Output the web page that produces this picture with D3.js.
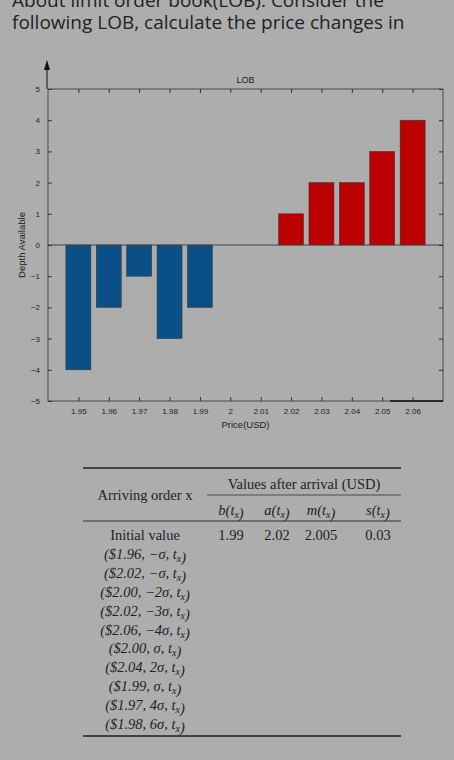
<!DOCTYPE html><html><head><meta charset="utf-8"><script src="https://cdn.jsdelivr.net/npm/d3@7"></script>
<style>body{margin:0;background:#adadad}svg{display:block}</style></head><body><svg width="454" height="760"></svg><script>
const prices=[1.95,1.96,1.97,1.98,1.99,2.00,2.01,2.02,2.03,2.04,2.05,2.06];
const depth=[-4,-2,-1,-3,-2,0,0,1,2,2,3,4];
const xTickLabels=["1.95","1.96","1.97","1.98","1.99","2","2.01","2.02","2.03","2.04","2.05","2.06"];
const yTicks=[-5,-4,-3,-2,-1,0,1,2,3,4,5];
const orders=["Initial value","($1.96, −σ, t_x)","($2.02, −σ, t_x)","($2.00, −2σ, t_x)","($2.02, −3σ, t_x)","($2.06, −4σ, t_x)","($2.00, σ, t_x)","($2.04, 2σ, t_x)","($1.99, σ, t_x)","($1.97, 4σ, t_x)","($1.98, 6σ, t_x)"];
const initialVals=["1.99","2.02","2.005","0.03"];
const colHeads=["b(t_x)","a(t_x)","m(t_x)","s(t_x)"];

const svg=d3.select("svg");
svg.append("text").attr("x",12).attr("y",7).attr("font-family","Open Sans").attr("font-size",19).attr("fill","#222").text("About limit order book(LOB): Consider the");
svg.append("text").attr("x",12).attr("y",29).attr("font-family","Open Sans").attr("font-size",19).attr("fill","#222").text("following LOB, calculate the price changes in");

const L=48,R=443,T=89,B=401;
const x=d3.scaleLinear().domain([1.94,2.07]).range([L,R]);
const y=d3.scaleLinear().domain([-5,5]).range([B,T]);
const g=svg.append("g");
const bw=25;
g.selectAll("rect").data(prices.map((p,i)=>({p,v:depth[i]})).filter(d=>d.v!==0)).join("rect")
 .attr("x",d=>x(d.p)-bw/2).attr("width",bw)
 .attr("y",d=>y(Math.max(0,d.v))).attr("height",d=>Math.abs(y(d.v)-y(0)))
 .attr("fill",d=>d.v<0?"#0a4f86":"#bb0000").attr("stroke","#333").attr("stroke-width",0.5);
g.append("line").attr("x1",L).attr("x2",R).attr("y1",y(0)).attr("y2",y(0)).attr("stroke","#444").attr("stroke-width",1);
g.append("rect").attr("x",L).attr("y",T).attr("width",R-L).attr("height",B-T).attr("fill","none").attr("stroke","#333").attr("stroke-width",0.8);
const xa=g.append("g").attr("transform",`translate(0,${B})`).call(d3.axisBottom(x).tickValues(prices).tickFormat((d,i)=>xTickLabels[i]).tickSize(-4).tickPadding(7));
const xt=g.append("g").attr("transform",`translate(0,${T})`).call(d3.axisTop(x).tickValues(prices).tickFormat("").tickSize(-4));
const ya=g.append("g").attr("transform",`translate(${L},0)`).call(d3.axisLeft(y).tickValues(yTicks).tickFormat(d3.format("d")).tickSize(-4).tickPadding(8));
const yr=g.append("g").attr("transform",`translate(${R},0)`).call(d3.axisRight(y).tickValues(yTicks).tickFormat("").tickSize(-4));
[xa,xt,ya,yr].forEach(a=>{a.select(".domain").remove();a.selectAll("line").attr("stroke","#333");a.selectAll("text").attr("font-family","Liberation Sans").attr("font-size",8).attr("fill","#222");});
g.append("line").attr("x1",390).attr("x2",R).attr("y1",B).attr("y2",B).attr("stroke","#111").attr("stroke-width",1.5);
g.append("line").attr("x1",L-1).attr("x2",L-1).attr("y1",T).attr("y2",66).attr("stroke","#111").attr("stroke-width",1);
g.append("path").attr("d",`M${L-1},60 L${L-4},70 L${L+2},70 Z`).attr("fill","#111");
g.append("text").attr("x",(L+R)/2).attr("y",83).attr("text-anchor","middle").attr("font-family","Liberation Sans").attr("font-size",9).attr("fill","#222").text("LOB");
g.append("text").attr("x",(L+R)/2).attr("y",428).attr("text-anchor","middle").attr("font-family","Liberation Sans").attr("font-size",9.5).attr("fill","#222").text("Price(USD)");
g.append("text").attr("transform",`translate(25,${(T+B)/2}) rotate(-90)`).attr("text-anchor","middle").attr("font-family","Liberation Sans").attr("font-size",9.5).attr("fill","#222").text("Depth Available");

// table
const tf="Liberation Serif",tc="#222";
const t=svg.append("g").attr("font-family",tf).attr("font-size",14.5).attr("fill",tc);
const rule=(x1,x2,yy,w)=>t.append("line").attr("x1",x1).attr("x2",x2).attr("y1",yy).attr("y2",yy).attr("stroke","#222").attr("stroke-width",w);
rule(83,401,468,1.3);rule(207,401,495,0.7);rule(83,401,521,0.9);rule(83,401,736,1.3);
function put(sel,s,italic){
  const parts=s.split("_x");
  parts.forEach((p,i)=>{
    sel.append("tspan").attr("font-style",italic?"italic":null).text(p);
    if(i<parts.length-1) sel.append("tspan").attr("font-style","italic").attr("font-size",10).attr("dy",3).text("x")
      .each(function(){}); 
    if(i<parts.length-1) sel.append("tspan").attr("dy",-3).text("");
  });
}
t.append("text").attr("x",304).attr("y",489).attr("text-anchor","middle").text("Values after arrival (USD)");
t.append("text").attr("x",145).attr("y",500).attr("text-anchor","middle").text("Arriving order x");
const cx=[231,277,321,378];
colHeads.forEach((h,i)=>put(t.append("text").attr("x",cx[i]).attr("y",515).attr("text-anchor","middle"),h,true));
orders.forEach((o,i)=>put(t.append("text").attr("x",145).attr("y",540+i*18.9).attr("text-anchor","middle"),o,i>0));
initialVals.forEach((v,i)=>t.append("text").attr("x",cx[i]).attr("y",540).attr("text-anchor","middle").text(v));
</script></body></html>
